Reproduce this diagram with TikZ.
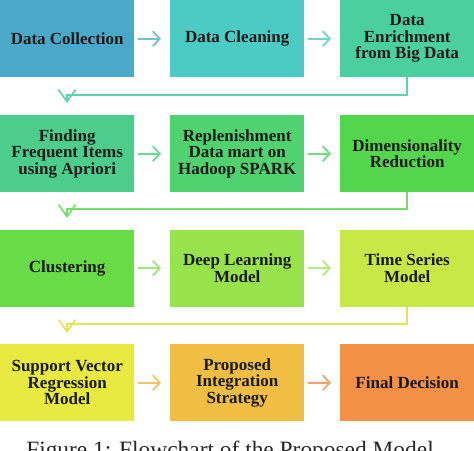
\documentclass[tikz,border=0pt]{standalone}
\usepackage{fontspec}
\setmainfont{Liberation Serif}
\usetikzlibrary{arrows.meta}
\definecolor{b1}{HTML}{4BA8C8}
\definecolor{b2}{HTML}{4CCBC4}
\definecolor{b3}{HTML}{4CCFA0}
\definecolor{b4}{HTML}{4CCD8C}
\definecolor{b5}{HTML}{50D270}
\definecolor{b6}{HTML}{54D64C}
\definecolor{b7}{HTML}{68DC46}
\definecolor{b8}{HTML}{98E24C}
\definecolor{b9}{HTML}{C8E848}
\definecolor{b10}{HTML}{E8EA40}
\definecolor{b11}{HTML}{F0BE42}
\definecolor{b12}{HTML}{F49048}
\definecolor{a1}{HTML}{72C0D4}
\definecolor{a2}{HTML}{72D4CC}
\definecolor{r1}{HTML}{5CD2AE}
\definecolor{a3}{HTML}{6ADA98}
\definecolor{a4}{HTML}{6EDC80}
\definecolor{r2}{HTML}{74DE6C}
\definecolor{a5}{HTML}{A2E47A}
\definecolor{a6}{HTML}{B8E880}
\definecolor{r3}{HTML}{E2E458}
\definecolor{a7}{HTML}{F2C468}
\definecolor{a8}{HTML}{F2A46C}
\tikzset{
  box/.style={minimum width=134pt, minimum height=77pt, inner sep=0pt, anchor=north west,
    align=center, font=\bfseries\fontsize{17}{16.5}\selectfont, text=black!90},
  harr/.style={line width=1.8pt, -{Straight Barb[length=7pt,width=15pt,line width=1.8pt]},
    shorten <=4pt, shorten >=9pt},
  rarr/.style={line width=1.6pt, -{Straight Barb[length=12pt,width=17pt,line width=1.6pt]}}
}
\begin{document}
\begin{tikzpicture}[x=1pt,y=-1pt]
\useasboundingbox (0,0) rectangle (474,450);
% row 1
\node[box, fill=b1] (n1) at (0,0) {Data Collection};
\node[box, fill=b2] (n2) at (170,0) {Data Cleaning};
\node[box, fill=b3] (n3) at (340,0) {Data\\Enrichment\\from Big Data};
% row 2
\node[box, fill=b4] (n4) at (0,115) {Finding\\Frequent Items\\using Apriori};
\node[box, fill=b5] (n5) at (170,115) {Replenishment\\Data mart on\\Hadoop SPARK};
\node[box, fill=b6] (n6) at (340,115) {Dimensionality\\Reduction};
% row 3
\node[box, fill=b7] (n7) at (0,229.5) {Clustering};
\node[box, fill=b8] (n8) at (170,229.5) {Deep Learning\\Model};
\node[box, fill=b9] (n9) at (340,229.5) {Time Series\\Model};
% row 4
\node[box, fill=b10] (n10) at (0,344) {Support Vector\\Regression\\Model};
\node[box, fill=b11] (n11) at (170,344) {Proposed\\Integration\\Strategy};
\node[box, fill=b12] (n12) at (340,344) {Final Decision};
% horizontal arrows
\draw[harr, a1] (n1) -- (n2);
\draw[harr, a2] (n2) -- (n3);
\draw[harr, a3] (n4) -- (n5);
\draw[harr, a4] (n5) -- (n6);
\draw[harr, a5] (n7) -- (n8);
\draw[harr, a6] (n8) -- (n9);
\draw[harr, a7] (n10) -- (n11);
\draw[harr, a8] (n11) -- (n12);
% return connectors
\coordinate (j1) at (67,95);  \coordinate (t1) at (67,103);
\coordinate (j2) at (67,209); \coordinate (t2) at (67,218);
\coordinate (j3) at (67,324); \coordinate (t3) at (67,333);
\draw[rarr, r1] (n3.south) |- (j1) -- (t1);
\draw[rarr, r2] (n6.south) |- (j2) -- (t2);
\draw[rarr, r3] (n9.south) |- (j3) -- (t3);
% caption (cut off at the lower edge, as in the reference)
\node[anchor=base, font=\fontsize{23.4}{26}\selectfont, text=black!85, inner sep=0pt] (cap) at (230,457) {Figure 1: Flowchart of the Proposed Model};
\end{tikzpicture}
\end{document}
